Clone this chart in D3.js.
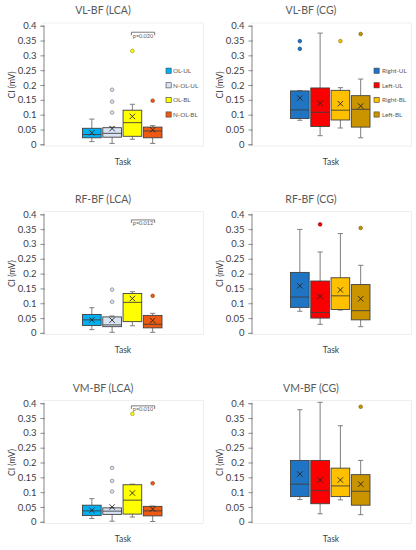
<!DOCTYPE html>
<html>
<head>
<meta charset="utf-8">
<script src="https://cdn.jsdelivr.net/npm/d3@7"></script>
<style>
  body { margin: 0; background: #fff; }
  text { font-family: Lato, "Open Sans", sans-serif; }
</style>
</head>
<body>
<div id="chart"></div>
<script>
// panel titles, row by row (left = LCA, right = CG)
const panelTitles = ["VL-BF (LCA)", "VL-BF (CG)", "RF-BF (LCA)", "RF-BF (CG)", "VM-BF (LCA)", "VM-BF (CG)"];
const lcaGroups = ["OL-UL", "N-OL-UL", "OL-BL", "N-OL-BL"];
const cgGroups = ["Right-UL", "Left-UL", "Right-BL", "Left-BL"];
const yTicks = [0, 0.05, 0.1, 0.15, 0.2, 0.25, 0.3, 0.35, 0.4];
const yTickLabels = ["0", "0.05", "0.1", "0.15", "0.2", "0.25", "0.3", "0.35", "0.4"];

// box stats per group: [low whisker, q1, median, q3, high whisker, mean]
const vlLca = [[0.009, 0.022, 0.033, 0.054, 0.085, 0.039], [0.003, 0.024, 0.037, 0.056, 0.058, 0.053],
               [0.017, 0.027, 0.073, 0.115, 0.135, 0.094], [0.003, 0.022, 0.045, 0.058, 0.063, 0.049]];
const vlCg  = [[0.081, 0.087, 0.116, 0.180, 0.181, 0.156], [0.029, 0.060, 0.108, 0.190, 0.375, 0.138],
               [0.055, 0.082, 0.115, 0.182, 0.191, 0.137], [0.022, 0.058, 0.118, 0.164, 0.220, 0.129]];
const rfLca = [[0.011, 0.025, 0.044, 0.062, 0.085, 0.044], [0.002, 0.021, 0.027, 0.054, 0.057, 0.043],
               [0.024, 0.038, 0.103, 0.133, 0.139, 0.116], [0.002, 0.017, 0.029, 0.059, 0.066, 0.042]];
const rfCg  = [[0.073, 0.086, 0.121, 0.204, 0.349, 0.159], [0.029, 0.050, 0.069, 0.175, 0.273, 0.123],
               [0.077, 0.079, 0.125, 0.186, 0.335, 0.145], [0.021, 0.044, 0.075, 0.163, 0.228, 0.115]];
const vmLca = [[0.011, 0.021, 0.037, 0.056, 0.078, 0.039], [0.002, 0.025, 0.036, 0.047, 0.048, 0.050],
               [0.016, 0.026, 0.073, 0.125, 0.127, 0.097], [0.001, 0.020, 0.037, 0.052, 0.053, 0.043]];
const vmCg  = [[0.075, 0.085, 0.127, 0.207, 0.378, 0.161], [0.027, 0.061, 0.105, 0.207, 0.403, 0.141],
               [0.074, 0.085, 0.121, 0.181, 0.324, 0.141], [0.024, 0.056, 0.103, 0.159, 0.207, 0.127]];

// outliers per group
const vlLcaOut = [[], [0.184, 0.144, 0.107], [0.315], [0.147]];
const vlCgOut  = [[0.348, 0.322], [], [0.348], [0.372]];
const rfLcaOut = [[], [0.146, 0.105], [], [0.125]];
const rfCgOut  = [[], [0.366], [], [0.354]];
const vmLcaOut = [[], [0.182, 0.138, 0.102], [0.364], [0.130]];
const vmCgOut  = [[], [], [], [0.388]];

// significance bracket between OL-BL and N-OL-BL
const pLabels = ["p=0.020", null, "p=0.012", null, "p=0.010", null];
const pLevels = [0.378, null, 0.381, null, 0.391, null];

const panelStats = [vlLca, vlCg, rfLca, rfCg, vmLca, vmCg];
const panelOutliers = [vlLcaOut, vlCgOut, rfLcaOut, rfCgOut, vmLcaOut, vmCgOut];

const lcaColors = ["#00b0f0", "#dae3f3", "#ffff00", "#ee5a12"];
const cgColors = ["#1f74c4", "#fb0000", "#ffc000", "#c99400"];

const width = 416, height = 550;
const panelW = 208, rowOffsets = [0, 188.6, 377.5];

const svg = d3.select("#chart").append("svg")
    .attr("width", width)
    .attr("height", height);

const y = d3.scaleLinear().domain([0, 0.4]).range([144.3, 25.7]);

const yAxis = d3.axisLeft(y)
    .tickValues(yTicks)
    .tickFormat((d, i) => yTickLabels[i])
    .tickSize(3)
    .tickPadding(4);

panelTitles.forEach((title, p) => {
  const isCg = p % 2 === 1;
  const groups = isCg ? cgGroups : lcaGroups;
  const color = d3.scaleOrdinal().domain(groups).range(isCg ? cgColors : lcaColors);
  const x = d3.scaleBand().domain(groups).range([82.5, 162]).paddingInner(0.08);
  const bw = x.bandwidth();

  const g = svg.append("g")
      .attr("transform", `translate(${isCg ? panelW : 0},${rowOffsets[Math.floor(p / 2)]})`);

  // faint plot area border
  g.append("rect")
      .attr("x", 43.5).attr("y", 23)
      .attr("width", 160).attr("height", 123)
      .attr("fill", "none")
      .attr("stroke", "#ececec")
      .attr("stroke-width", 0.8);

  g.append("text")
      .attr("x", 103).attr("y", 14)
      .attr("text-anchor", "middle")
      .attr("font-size", 10.5)
      .attr("fill", "#595959")
      .text(title);

  g.append("text")
      .attr("x", 123).attr("y", 164.5)
      .attr("text-anchor", "middle")
      .attr("font-size", 8.5)
      .attr("fill", "#404040")
      .text("Task");

  g.append("text")
      .attr("transform", `translate(14.5,${(y(0) + y(0.4)) / 2}) rotate(-90)`)
      .attr("text-anchor", "middle")
      .attr("font-size", 8.5)
      .attr("fill", "#404040")
      .text("CI (mV)");

  const yAxisG = g.append("g")
      .attr("transform", "translate(43.5,0)")
      .call(yAxis);
  yAxisG.select(".domain").attr("stroke", "#8c8c8c");
  yAxisG.selectAll(".tick line").attr("stroke", "#8c8c8c").attr("x2", 1.5).attr("x1", -3);
  yAxisG.selectAll(".tick text")
      .attr("font-size", 9.5)
      .attr("fill", "#404040")
      .attr("font-family", "Lato, 'Open Sans', sans-serif");

  const stats = panelStats[p];
  const outs = panelOutliers[p];

  groups.forEach((name, i) => {
    const [lo, q1, med, q3, hi, mean] = stats[i];
    const cx = x(name) + bw / 2;
    const bg = g.append("g");

    // whiskers
    bg.selectAll("line.whisker")
      .data([[lo, q1], [q3, hi]])
      .join("line")
        .attr("class", "whisker")
        .attr("x1", cx).attr("x2", cx)
        .attr("y1", d => y(d[0])).attr("y2", d => y(d[1]))
        .attr("stroke", "#7f7f7f").attr("stroke-width", 1);
    bg.selectAll("line.cap")
      .data([lo, hi])
      .join("line")
        .attr("class", "cap")
        .attr("x1", cx - 2.6).attr("x2", cx + 2.6)
        .attr("y1", d => y(d)).attr("y2", d => y(d))
        .attr("stroke", "#7f7f7f").attr("stroke-width", 1);

    bg.append("rect")
        .attr("x", x(name)).attr("y", y(q3))
        .attr("width", bw).attr("height", y(q1) - y(q3))
        .attr("fill", color(name))
        .attr("stroke", "#404040").attr("stroke-width", 0.9);

    bg.append("line")
        .attr("x1", x(name)).attr("x2", x(name) + bw)
        .attr("y1", y(med)).attr("y2", y(med))
        .attr("stroke", "#404040").attr("stroke-width", 0.9);

    // mean marker
    const my = y(mean);
    bg.append("path")
        .attr("d", `M${cx - 2.7},${my - 2.7}L${cx + 2.7},${my + 2.7}M${cx - 2.7},${my + 2.7}L${cx + 2.7},${my - 2.7}`)
        .attr("stroke", "#262626").attr("stroke-width", 0.9);

    bg.selectAll("circle")
      .data(outs[i])
      .join("circle")
        .attr("cx", cx).attr("cy", d => y(d))
        .attr("r", 1.8)
        .attr("fill", color(name))
        .attr("stroke", name === "N-OL-UL" ? "#7f7f7f" : d3.color(color(name)).darker(1.3))
        .attr("stroke-width", 0.7);
  });

  // significance bracket
  if (pLabels[p]) {
    const x1 = x(groups[2]) + bw / 2 - 1, x2 = x(groups[3]) + bw / 2 + 2;
    const by = y(pLevels[p]);
    g.append("path")
        .attr("d", `M${x1},${by + 3}V${by}H${x2}V${by + 3}`)
        .attr("fill", "none")
        .attr("stroke", "#595959").attr("stroke-width", 0.8);
    g.append("text")
        .attr("x", (x1 + x2) / 2).attr("y", by + 5.5)
        .attr("text-anchor", "middle")
        .attr("font-size", 5.5)
        .attr("fill", "#595959")
        .text(pLabels[p]);
  }

  // legend on the top row only
  if (p < 2) {
    const leg = g.selectAll("g.legend")
      .data(groups)
      .join("g")
        .attr("class", "legend")
        .attr("transform", (d, i) => `translate(166,${70.7 + i * 14.6})`);
    leg.append("rect")
        .attr("x", 0).attr("y", -2.6)
        .attr("width", 5.2).attr("height", 5.2)
        .attr("fill", d => color(d))
        .attr("stroke", "#404040").attr("stroke-width", 0.6);
    leg.append("text")
        .attr("x", isCg ? 8 : 7).attr("y", 2.2)
        .attr("font-size", 6.3)
        .attr("fill", "#595959")
        .text(d => d);
  }
});
</script>
</body>
</html>
